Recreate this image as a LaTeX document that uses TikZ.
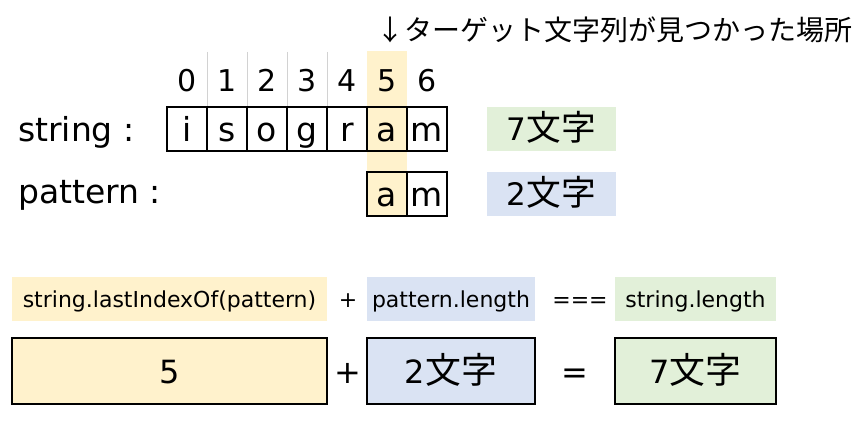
\documentclass[tikz,border=0pt]{standalone}
\usepackage{fontspec}
\setmainfont{DejaVu Sans}
\newfontfamily\jpfont[Scale=1.12]{Noto Sans CJK JP}
\definecolor{hiyellow}{HTML}{FFF2CC}
\definecolor{hiblue}{HTML}{DAE3F3}
\definecolor{higreen}{HTML}{E2F0D9}
\tikzset{
  cell/.style={draw, line width=1.5pt, minimum width=40pt, minimum height=44pt,
    inner sep=0pt, text height=26pt, text depth=0pt, font=\fontsize{33pt}{38pt}\selectfont},
  idx/.style={inner sep=0pt, text height=24pt, text depth=0pt, font=\fontsize{30pt}{36pt}\selectfont},
  lbl/.style={anchor=base west, inner sep=0pt, font=\fontsize{33pt}{38pt}\selectfont},
  cnt/.style={minimum width=129pt, minimum height=44pt, inner sep=0pt,
    text height=24pt, text depth=0pt, font=\fontsize{31pt}{36pt}\selectfont},
  code/.style={minimum height=44pt, inner sep=0pt, text height=16pt, text depth=0pt,
    font=\fontsize{22pt}{26pt}\selectfont},
  total/.style={draw, line width=1.5pt, minimum height=66pt, inner sep=0pt,
    text height=24pt, text depth=0pt, font=\fontsize{32pt}{38pt}\selectfont},
}

\begin{document}
\begin{tikzpicture}[x=1pt, y=-1pt]
\useasboundingbox (0,0) rectangle (859,422);

% found position
\fill[hiyellow] (367,51) rectangle (407,216);
\node[anchor=base west, inner sep=0pt, font=\jpfont\fontsize{25pt}{30pt}\selectfont] (found) at (376,41) {↓ターゲット文字列が見つかった場所};

% index
\draw[gray!35, line width=0.8pt] (207,52) -- (207,107);
\draw[gray!35, line width=0.8pt] (247,52) -- (247,107);
\draw[gray!35, line width=0.8pt] (287,52) -- (287,107);
\draw[gray!35, line width=0.8pt] (327,52) -- (327,107);
\node[idx] (i0) at (187,80) {0};
\node[idx] (i1) at (227,80) {1};
\node[idx] (i2) at (267,80) {2};
\node[idx] (i3) at (307,80) {3};
\node[idx] (i4) at (347,80) {4};
\node[idx] (i5) at (387,80) {5};
\node[idx] (i6) at (427,80) {6};

% string
\node[lbl] (strlbl) at (18,142) {string :};
\node[cell] (s0) at (187,129) {i};
\node[cell] (s1) at (227,129) {s};
\node[cell] (s2) at (267,129) {o};
\node[cell] (s3) at (307,129) {g};
\node[cell] (s4) at (347,129) {r};
\node[cell] (s5) at (387,129) {a};
\node[cell] (s6) at (427,129) {m};
\node[cnt, fill=higreen] (strlen) at (551.5,129) {7\jpfont 文字};

% pattern
\node[lbl] (patlbl) at (18,204) {pattern :};
\node[cell] (p0) at (387,194) {a};
\node[cell] (p1) at (427,194) {m};
\node[cnt, fill=hiblue] (patlen) at (551.5,194) {2\jpfont 文字};

% formula
\node[code, fill=hiyellow, minimum width=315pt] (lastidx) at (169.5,299) {string.lastIndexOf(pattern)};
\node[code] (plus1) at (348,299) {+};
\node[code, fill=hiblue, minimum width=168pt] (patlength) at (451,299) {pattern.length};
\node[code] (eq1) at (580,299) {===};
\node[code, fill=higreen, minimum width=161pt] (strlength) at (695.5,299) {string.length};

\node[total, fill=hiyellow, minimum width=315pt] (five) at (169.5,371) {5};
\node[total, draw=none] (plus2) at (348,371) {+};
\node[total, fill=hiblue, minimum width=168pt] (two) at (451,371) {2\jpfont 文字};
\node[total, draw=none] (eq2) at (575,371) {=};
\node[total, fill=higreen, minimum width=161pt] (seven) at (695.5,371) {7\jpfont 文字};

\end{tikzpicture}
\end{document}
